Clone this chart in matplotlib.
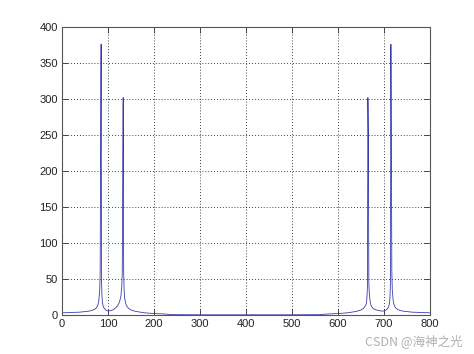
import matplotlib
matplotlib.use("Agg")
import matplotlib.pyplot as plt

freq_index = [0, 20, 40, 60, 70, 75, 78, 80, 82, 83, 84, 85, 86, 87, 88, 90, 95, 100, 105, 110,
              115, 120, 125, 128, 130, 131, 132, 133, 134, 135, 136, 138, 140, 145, 150, 160, 170,
              180, 190, 200, 220, 240, 300, 400, 500, 560, 580, 600, 610, 620, 630, 640, 650, 655,
              660, 662, 663, 664, 665, 666, 667, 668, 670, 672, 675, 680, 690, 695, 700, 705, 710,
              712, 713, 714, 715, 716, 717, 718, 720, 722, 725, 730, 740, 760, 780, 800]
magnitude = [3, 3.5, 4, 5.5, 7.5, 10, 14, 20, 35, 60, 234, 376, 45, 25, 17, 11, 7, 5.5, 6, 7,
             9, 12, 18, 26, 40, 60, 194, 302, 60, 35, 25, 17, 13, 9, 7, 5, 4,
             3, 2.5, 2, 1.5, 0.5, 0.3, 0.3, 0.3, 0.5, 1.5, 2, 2.5, 3, 4, 5, 7, 9,
             13, 17, 25, 40, 302, 253, 45, 30, 18, 13, 10, 7.5, 6, 5.5, 5.5, 7, 11,
             17, 25, 45, 376, 234, 60, 35, 20, 14, 10, 7.5, 5.5, 4, 3.5, 3]
x_ticks = [0, 100, 200, 300, 400, 500, 600, 700, 800]
y_ticks = [0, 50, 100, 150, 200, 250, 300, 350, 400]

plt.rcParams['font.family'] = ['Liberation Sans', 'DejaVu Sans']

fig = plt.figure(figsize=(4.74, 3.54), dpi=100)
fig.patch.set_facecolor('white')
ax = fig.add_axes([62/474, 39/354, 368/474, 288/354])
ax.plot(freq_index, magnitude, color='#3a3ab0', linewidth=0.6)
ax.set_xlim(0, 800)
ax.set_ylim(0, 400)
ax.set_xticks(x_ticks)
ax.set_yticks(y_ticks)
ax.grid(True, color='black', linestyle=(0, (1, 2.5)), linewidth=0.6)
ax.tick_params(direction='in', length=4, width=0.6, labelsize=8, top=True, right=True,
               colors='#333333', labelcolor='#222222', pad=3)
for s in ax.spines.values():
    s.set_color('#555555')
    s.set_linewidth(0.8)

fig.text(0.975, 0.038, 'CSDN @海神之光', ha='right', va='center', fontsize=9, color='#b0b0b0',
         family=['Noto Sans CJK SC', 'DejaVu Sans'])

fig.savefig('out.png', dpi=100)
